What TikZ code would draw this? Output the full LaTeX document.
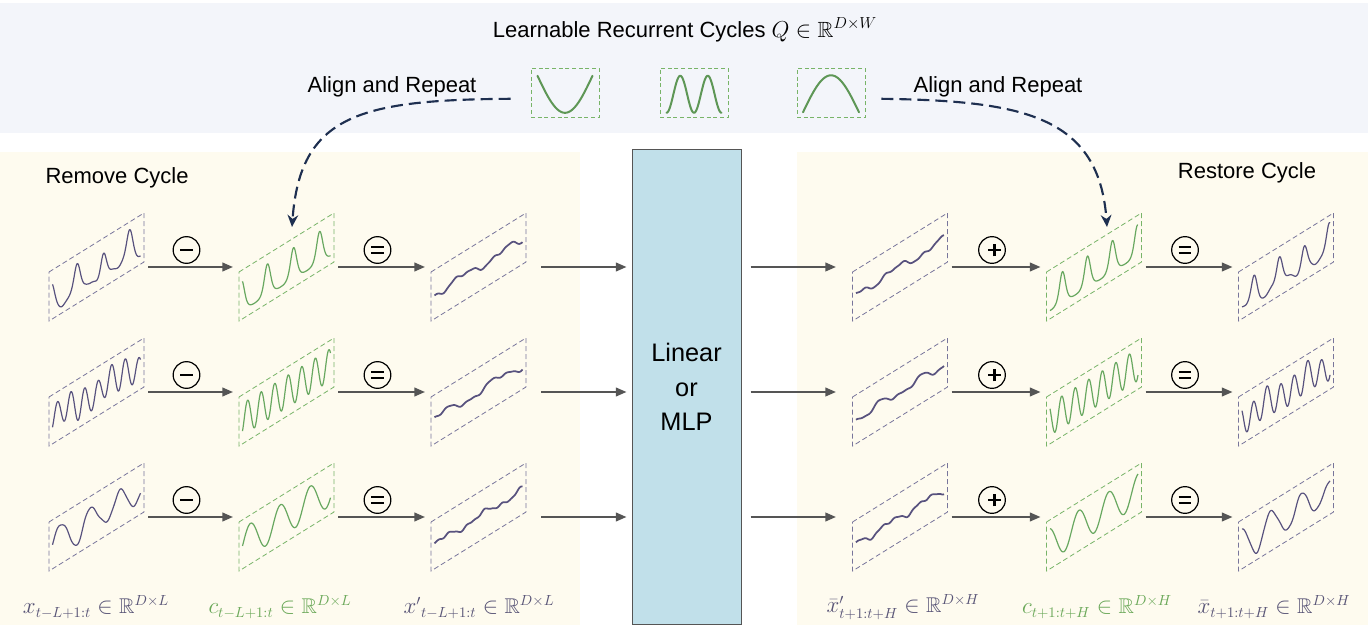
\documentclass[tikz,border=0pt]{standalone}
\usepackage{amsmath}
\usepackage{amssymb}
\usepackage{fontspec}
\setmainfont{Liberation Sans}
\usetikzlibrary{calc,arrows.meta}
\tikzset{every picture/.style={line width=0.75pt}}

\definecolor{bandblue}{RGB}{243,245,250}
\definecolor{panelyellow}{RGB}{254,251,239}
\definecolor{mlpblue}{RGB}{193,224,234}
\definecolor{seriespurple}{RGB}{88,82,126}
\definecolor{framepurple}{RGB}{120,117,155}
\definecolor{cyclegreen}{RGB}{104,168,96}
\definecolor{framegreen}{RGB}{120,180,104}
\definecolor{labelpurple}{RGB}{88,84,118}
\definecolor{labelgreen}{RGB}{106,168,88}
\definecolor{flowgray}{RGB}{85,85,85}
\definecolor{alignnavy}{RGB}{30,47,80}

% cycle shapes (\x runs along a cell)
\newcommand{\cycA}{(17-32*exp(1.9*(cos(13.8*(\x+19))-1)))}
\newcommand{\cycB}{(16*cos(26.6*(\x+5)))}
\newcommand{\cycC}{(16*cos(12*(\x+21)))}
\newcommand{\cycD}{(17-32*exp(1.9*(cos(14.4*(\x+6.5))-1)))}
\newcommand{\cycE}{(16*cos(26.6*(\x+12)))}
\newcommand{\cycF}{(16*cos(12*(\x+30)))}
% residual shapes
\newcommand{\resA}{(3*sin(8*\x+40)+1.6*sin(19*\x+10)+0.5*sin(38*\x))}
\newcommand{\resB}{(3.5*sin(7*\x+150)+1.6*sin(18*\x+60)+0.5*sin(36*\x+20))}
\newcommand{\resC}{(2.5*sin(9*\x+220)+1.4*sin(21*\x+120)+0.6*sin(40*\x+40))}
\newcommand{\resD}{(3*sin(8*\x+300)+1.6*sin(19*\x+200)+0.5*sin(37*\x+90))}
\newcommand{\resE}{(3*sin(9*\x+80)+1.8*sin(17*\x+250)+0.5*sin(35*\x+10))}
\newcommand{\resF}{(2.5*sin(10*\x+10)+1.5*sin(20*\x+300)+0.6*sin(39*\x+150))}

% slanted series cell: name, centre, frame style, curve style, offset from the slant
\newcommand{\seriescell}[5]{%
  \begin{scope}[shift={(#2)}]
    \node[cellbox] (#1) at (0,0) {};
    \draw[#3] (-47.5,5) -- (47.5,-54) -- (47.5,-5) -- (-47.5,54) -- cycle;
    \draw[#4] plot[domain=-44:44,samples=160] (\x,{-0.621*\x+#5});
  \end{scope}}

% operator marks
\newcommand{\opminus}{\rule{9.6pt}{2.2pt}}
\newcommand{\opequal}{\vbox{\hrule width 9.6pt height 2.1pt\vskip 2.4pt\hrule width 9.6pt height 2.1pt}}
\newcommand{\opplus}{\rlap{\raisebox{3.7pt}{\rule{9.6pt}{2.2pt}}}\hspace{3.7pt}\rule{2.2pt}{9.6pt}\hspace{3.7pt}}

\begin{document}
\begin{tikzpicture}[x=0.75pt,y=0.75pt,yscale=-1,xscale=1,
  headfont/.style={font=\fontsize{16.5}{20}\selectfont},
  cellbox/.style={minimum width=71.25pt,minimum height=81pt,inner sep=0pt,outer sep=0pt},
  purpleframe/.style={draw=framepurple,line width=0.6pt,dash pattern=on 3.75pt off 2.25pt},
  greenframe/.style={draw=framegreen,line width=0.6pt,dash pattern=on 3.75pt off 2.25pt},
  purplecurve/.style={draw=seriespurple,line width=0.9pt,line join=round},
  greencurve/.style={draw=cyclegreen,line width=0.9pt,line join=round},
  residual/.style={draw=seriespurple,line width=1.3pt,line join=round},
  qbox/.style={draw=framegreen,line width=0.6pt,dash pattern=on 3pt off 2pt,minimum width=51pt,minimum height=36.75pt,inner sep=0pt},
  qcurve/.style={draw=cyclegreen!90!black,line width=1.5pt,line cap=round},
  flow/.style={draw=flowgray,line width=1.5pt,-{Triangle[length=8pt,width=6.5pt]},shorten <=3pt,shorten >=4.5pt},
  alignarrow/.style={draw=alignnavy,line width=1.6pt,dash pattern=on 9pt off 4.5pt,-{Stealth[length=9pt,width=8pt]}},
  op/.style={circle,draw=black,line width=0.9pt,minimum size=20pt,inner sep=0pt},
  mlpbox/.style={draw=flowgray,fill=mlpblue,minimum width=81.75pt,minimum height=355.5pt,inner sep=0pt,align=center,font=\fontsize{19}{26}\selectfont},
  purplelabel/.style={text=labelpurple,font=\fontsize{16}{19}\selectfont},
  greenlabel/.style={text=labelgreen,font=\fontsize{16}{19}\selectfont}]

\useasboundingbox (0,0) rectangle (1370,630);
\fill[white] (0,0) rectangle (1370,630);

% Background panels
\fill[bandblue] (0,3) rectangle (1368,133);
\fill[panelyellow] (0,152) rectangle (580,625);
\fill[panelyellow] (797,152) rectangle (1368,625);

% Text Node
\node[headfont] (title) at (685,30) {Learnable Recurrent Cycles $Q\in\mathbb{R}^{D\times W}$};
\node[headfont] (alignl) at (392,87) {Align and Repeat};
\node[headfont] (alignr) at (998,87) {Align and Repeat};
\node[headfont,anchor=west,inner sep=0pt] (remove) at (45,178) {Remove Cycle};
\node[headfont] (restore) at (1247,173) {Restore Cycle};

% Learnable cycles
\node[qbox] (q1) at (565,92.8) {};
\draw[qcurve,shift={(565,92.8)}] plot[domain=-27.5:27.5,samples=60] (\x,{20-37*(1-cos(90*\x/27.5))});
\node[qbox] (q2) at (694,92.8) {};
\draw[qcurve,shift={(694,92.8)}] plot[domain=-27.5:27.5,samples=80] (\x,{1.5+18.5*cos(360/27.5*(\x+27.5))});
\node[qbox] (q3) at (831,92.8) {};
\draw[qcurve,shift={(831,92.8)}] plot[domain=-28:28,samples=60] (\x,{-17.5+37*(1-cos(90*\x/28))});

% Linear or MLP
\node[mlpbox] (lin) at (686.5,387) {Linear\\or\\MLP};

% Remove cycle cells
\seriescell{x1}{96.5,267}{purpleframe}{purplecurve}{0.85*\cycA+\resA}
\seriescell{c1}{286.5,267}{greenframe}{greencurve}{\cycA}
\seriescell{r1}{478.5,267}{purpleframe}{residual}{\resA}
\seriescell{x2}{96.5,392}{purpleframe}{purplecurve}{0.85*\cycB+\resB}
\seriescell{c2}{286.5,392}{greenframe}{greencurve}{\cycB}
\seriescell{r2}{478.5,392}{purpleframe}{residual}{\resB}
\seriescell{x3}{96.5,517}{purpleframe}{purplecurve}{0.85*\cycC+\resC}
\seriescell{c3}{286.5,517}{greenframe}{greencurve}{\cycC}
\seriescell{r3}{478.5,517}{purpleframe}{residual}{\resC}

% Restore cycle cells
\seriescell{rb1}{900,267}{purpleframe}{residual}{\resD}
\seriescell{cb1}{1094,267}{greenframe}{greencurve}{\cycD}
\seriescell{xb1}{1286,267}{purpleframe}{purplecurve}{0.85*\cycD+\resD}
\seriescell{rb2}{900,392}{purpleframe}{residual}{\resE}
\seriescell{cb2}{1094,392}{greenframe}{greencurve}{\cycE}
\seriescell{xb2}{1286,392}{purpleframe}{purplecurve}{0.85*\cycE+\resE}
\seriescell{rb3}{900,517}{purpleframe}{residual}{\resF}
\seriescell{cb3}{1094,517}{greenframe}{greencurve}{\cycF}
\seriescell{xb3}{1286,517}{purpleframe}{purplecurve}{0.85*\cycF+\resF}

% Row arrows
\draw[flow] (x1.east) -- (c1.west);
\draw[flow] (c1.east) -- (r1.west);
\draw[flow,shorten <=11.25pt,shorten >=3.75pt] (r1.east) -- (r1.east -| lin.west);
\draw[flow,shorten <=6.75pt,shorten >=12.4pt] (lin.east |- rb1.west) -- (rb1.west);
\draw[flow] (rb1.east) -- (cb1.west);
\draw[flow] (cb1.east) -- (xb1.west);
\draw[flow] (x2.east) -- (c2.west);
\draw[flow] (c2.east) -- (r2.west);
\draw[flow,shorten <=11.25pt,shorten >=3.75pt] (r2.east) -- (r2.east -| lin.west);
\draw[flow,shorten <=6.75pt,shorten >=12.4pt] (lin.east |- rb2.west) -- (rb2.west);
\draw[flow] (rb2.east) -- (cb2.west);
\draw[flow] (cb2.east) -- (xb2.west);
\draw[flow] (x3.east) -- (c3.west);
\draw[flow] (c3.east) -- (r3.west);
\draw[flow,shorten <=11.25pt,shorten >=3.75pt] (r3.east) -- (r3.east -| lin.west);
\draw[flow,shorten <=6.75pt,shorten >=12.4pt] (lin.east |- rb3.west) -- (rb3.west);
\draw[flow] (rb3.east) -- (cb3.west);
\draw[flow] (cb3.east) -- (xb3.west);

% Operators
\node[op] (sub1) at ($(x1.east)!0.5!(c1.west)+(-5,-17)$) {\opminus};
\node[op] (eq1) at ($(c1.east)!0.5!(r1.west)+(-5,-17)$) {\opequal};
\node[op] (add1) at ($(rb1.east)!0.5!(cb1.west)+(-5,-17)$) {\opplus};
\node[op] (eqb1) at ($(cb1.east)!0.5!(xb1.west)+(-5,-17)$) {\opequal};
\node[op] (sub2) at ($(x2.east)!0.5!(c2.west)+(-5,-17)$) {\opminus};
\node[op] (eq2) at ($(c2.east)!0.5!(r2.west)+(-5,-17)$) {\opequal};
\node[op] (add2) at ($(rb2.east)!0.5!(cb2.west)+(-5,-17)$) {\opplus};
\node[op] (eqb2) at ($(cb2.east)!0.5!(xb2.west)+(-5,-17)$) {\opequal};
\node[op] (sub3) at ($(x3.east)!0.5!(c3.west)+(-5,-17)$) {\opminus};
\node[op] (eq3) at ($(c3.east)!0.5!(r3.west)+(-5,-17)$) {\opequal};
\node[op] (add3) at ($(rb3.east)!0.5!(cb3.west)+(-5,-17)$) {\opplus};
\node[op] (eqb3) at ($(cb3.east)!0.5!(xb3.west)+(-5,-17)$) {\opequal};

% Align and repeat arrows
\draw[alignarrow] ($(q1.west)+(-20,6)$) .. controls +(-151,1) and +(8,-112) .. ($(c1.north)+(5.5,14)$);
\draw[alignarrow] ($(q3.east)+(16,6)$) .. controls +(140,2) and +(-8,-112) .. ($(cb1.north)+(13,14)$);

% Bottom labels
\node[purplelabel] (lx) at (96,607) {$x_{t-L+1:t}\in\mathbb{R}^{D\times L}$};
\node[greenlabel] (lc) at (280,607) {$c_{t-L+1:t}\in\mathbb{R}^{D\times L}$};
\node[purplelabel] (lr) at (479,607) {${x'}_{t-L+1:t}\in\mathbb{R}^{D\times L}$};
\node[purplelabel] (lrb) at (903,607) {${\bar{x}'}_{t+1:t+H}\in\mathbb{R}^{D\times H}$};
\node[greenlabel] (lcb) at (1097,607) {$c_{t+1:t+H}\in\mathbb{R}^{D\times H}$};
\node[purplelabel] (lxb) at (1274,607) {$\bar{x}_{t+1:t+H}\in\mathbb{R}^{D\times H}$};

\end{tikzpicture}
\end{document}
